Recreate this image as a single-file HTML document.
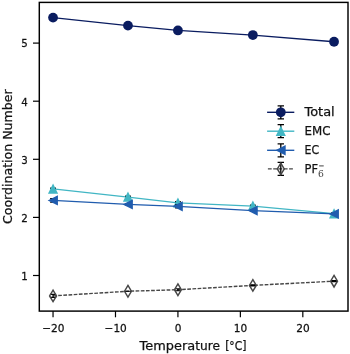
<!DOCTYPE html>
<html lang="en"><head><meta charset="utf-8"><title>Coordination Number vs Temperature</title>
<style>html,body{margin:0;padding:0;background:#fff}svg{display:block}</style></head>
<body>
<svg width="350" height="354" viewBox="0 0 350 354" font-family="'DejaVu Sans', 'Liberation Sans', sans-serif">
<rect width="350" height="354" fill="#fff"/>
<polyline points="53.04,17.59 127.97,25.61 177.93,30.43 252.86,35.08 334.04,41.76" fill="none" stroke="#0a1c60" stroke-width="1.35"/>
<circle cx="53.04" cy="17.59" r="4.9" fill="#0a1c60"/>
<circle cx="127.97" cy="25.61" r="4.9" fill="#0a1c60"/>
<circle cx="177.93" cy="30.43" r="4.9" fill="#0a1c60"/>
<circle cx="252.86" cy="35.08" r="4.9" fill="#0a1c60"/>
<circle cx="334.04" cy="41.76" r="4.9" fill="#0a1c60"/>
<polyline points="53.04,188.93 127.97,197.12 177.93,202.88 252.86,206.07 334.04,213.68" fill="none" stroke="#41b6c4" stroke-width="1.35"/>
<path d="M53.04 187.93V188.73M50.14 187.93H55.94M50.14 188.73H55.94" stroke="#000" stroke-width="1.1" fill="none"/>
<polygon points="53.04,183.43 58.14,193.63 47.94,193.63" fill="#41b6c4"/>
<path d="M127.97 196.12V196.92M125.07 196.12H130.87M125.07 196.92H130.87" stroke="#000" stroke-width="1.1" fill="none"/>
<polygon points="127.97,191.62 133.07,201.82 122.87,201.82" fill="#41b6c4"/>
<path d="M177.93 201.47V203.08M175.03 201.47H180.83M175.03 203.08H180.83" stroke="#000" stroke-width="1.1" fill="none"/>
<polygon points="177.93,197.38 183.03,207.57 172.83,207.57" fill="#41b6c4"/>
<path d="M252.86 204.97V205.97M249.96 204.97H255.76M249.96 205.97H255.76" stroke="#000" stroke-width="1.1" fill="none"/>
<polygon points="252.86,200.57 257.96,210.77 247.76,210.77" fill="#41b6c4"/>
<path d="M334.04 212.78V213.38M331.14 212.78H336.94M331.14 213.38H336.94" stroke="#000" stroke-width="1.1" fill="none"/>
<polygon points="334.04,208.18 339.14,218.38 328.94,218.38" fill="#41b6c4"/>
<polyline points="53.04,200.38 127.97,204.39 177.93,206.36 252.86,210.60 334.04,213.91" fill="none" stroke="#205cae" stroke-width="1.35"/>
<path d="M53.04 198.58V202.18M50.14 198.58H55.94M50.14 202.18H55.94" stroke="#000" stroke-width="1.1" fill="none"/>
<polygon points="47.64,200.38 57.94,195.18 57.94,205.58" fill="#205cae"/>
<path d="M127.97 203.89V204.89M125.07 203.89H130.87M125.07 204.89H130.87" stroke="#000" stroke-width="1.1" fill="none"/>
<polygon points="122.57,204.39 132.87,199.19 132.87,209.59" fill="#205cae"/>
<path d="M177.93 204.86V207.86M175.03 204.86H180.83M175.03 207.86H180.83" stroke="#000" stroke-width="1.1" fill="none"/>
<polygon points="172.53,206.36 182.83,201.16 182.83,211.56" fill="#205cae"/>
<path d="M252.86 210.00V211.20M249.96 210.00H255.76M249.96 211.20H255.76" stroke="#000" stroke-width="1.1" fill="none"/>
<polygon points="247.46,210.60 257.76,205.40 257.76,215.80" fill="#205cae"/>
<path d="M334.04 213.61V214.21M331.14 213.61H336.94M331.14 214.21H336.94" stroke="#000" stroke-width="1.1" fill="none"/>
<polygon points="328.64,213.91 338.94,208.71 338.94,219.11" fill="#205cae"/>
<polyline points="53.04,295.89 127.97,291.25 177.93,289.73 252.86,285.38 334.04,281.19" fill="none" stroke="#464646" stroke-width="1.4" stroke-dasharray="3.7 1.47"/>
<path d="M53.04 294.44V297.34M49.94 294.44H56.14M49.94 297.34H56.14" stroke="#000" stroke-width="1.2" fill="none"/>
<polygon points="53.04,290.09 56.49,295.89 53.04,301.69 49.59,295.89" fill="none" stroke="#464646" stroke-width="1.45" stroke-linejoin="miter"/>
<path d="M127.97 291.25V291.25M124.87 291.25H131.07M124.87 291.25H131.07" stroke="#000" stroke-width="1.2" fill="none"/>
<polygon points="127.97,285.45 131.42,291.25 127.97,297.05 124.52,291.25" fill="none" stroke="#464646" stroke-width="1.45" stroke-linejoin="miter"/>
<path d="M177.93 288.73V290.73M174.83 288.73H181.03M174.83 290.73H181.03" stroke="#000" stroke-width="1.2" fill="none"/>
<polygon points="177.93,283.93 181.38,289.73 177.93,295.53 174.48,289.73" fill="none" stroke="#464646" stroke-width="1.45" stroke-linejoin="miter"/>
<path d="M252.86 284.88V285.88M249.76 284.88H255.96M249.76 285.88H255.96" stroke="#000" stroke-width="1.2" fill="none"/>
<polygon points="252.86,279.58 256.31,285.38 252.86,291.18 249.41,285.38" fill="none" stroke="#464646" stroke-width="1.45" stroke-linejoin="miter"/>
<path d="M334.04 280.69V281.69M330.94 280.69H337.14M330.94 281.69H337.14" stroke="#000" stroke-width="1.2" fill="none"/>
<polygon points="334.04,275.39 337.49,281.19 334.04,286.99 330.59,281.19" fill="none" stroke="#464646" stroke-width="1.45" stroke-linejoin="miter"/>
<rect x="39.3" y="2.4" width="308.7" height="308.70000000000005" fill="none" stroke="#000" stroke-width="1.45"/>
<line x1="53.04" y1="311.1" x2="53.04" y2="317.3" stroke="#000" stroke-width="1.2"/>
<text transform="translate(53.24,331.8) scale(0.95,1)" font-size="11.1" text-anchor="middle" fill="#111" stroke="#111" stroke-width="0.25">−20</text>
<line x1="115.49" y1="311.1" x2="115.49" y2="317.3" stroke="#000" stroke-width="1.2"/>
<text transform="translate(115.69,331.8) scale(0.95,1)" font-size="11.1" text-anchor="middle" fill="#111" stroke="#111" stroke-width="0.25">−10</text>
<line x1="177.93" y1="311.1" x2="177.93" y2="317.3" stroke="#000" stroke-width="1.2"/>
<text transform="translate(178.13,331.8) scale(0.95,1)" font-size="11.1" text-anchor="middle" fill="#111" stroke="#111" stroke-width="0.25">0</text>
<line x1="240.37" y1="311.1" x2="240.37" y2="317.3" stroke="#000" stroke-width="1.2"/>
<text transform="translate(240.57,331.8) scale(0.95,1)" font-size="11.1" text-anchor="middle" fill="#111" stroke="#111" stroke-width="0.25">10</text>
<line x1="302.82" y1="311.1" x2="302.82" y2="317.3" stroke="#000" stroke-width="1.2"/>
<text transform="translate(303.02,331.8) scale(0.95,1)" font-size="11.1" text-anchor="middle" fill="#111" stroke="#111" stroke-width="0.25">20</text>
<line x1="39.3" y1="275.50" x2="33.0" y2="275.50" stroke="#000" stroke-width="1.2"/>
<text transform="translate(27.7,279.80) scale(0.92,1)" font-size="11.1" text-anchor="end" fill="#111" stroke="#111" stroke-width="0.25">1</text>
<line x1="39.3" y1="217.40" x2="33.0" y2="217.40" stroke="#000" stroke-width="1.2"/>
<text transform="translate(27.7,221.70) scale(0.92,1)" font-size="11.1" text-anchor="end" fill="#111" stroke="#111" stroke-width="0.25">2</text>
<line x1="39.3" y1="159.30" x2="33.0" y2="159.30" stroke="#000" stroke-width="1.2"/>
<text transform="translate(27.7,163.60) scale(0.92,1)" font-size="11.1" text-anchor="end" fill="#111" stroke="#111" stroke-width="0.25">3</text>
<line x1="39.3" y1="101.20" x2="33.0" y2="101.20" stroke="#000" stroke-width="1.2"/>
<text transform="translate(27.7,105.50) scale(0.92,1)" font-size="11.1" text-anchor="end" fill="#111" stroke="#111" stroke-width="0.25">4</text>
<line x1="39.3" y1="43.10" x2="33.0" y2="43.10" stroke="#000" stroke-width="1.2"/>
<text transform="translate(27.7,47.40) scale(0.92,1)" font-size="11.1" text-anchor="end" fill="#111" stroke="#111" stroke-width="0.25">5</text>
<text y="350.2" font-size="12.5" fill="#111" stroke="#111" stroke-width="0.25"><tspan x="139.6" textLength="55.5" lengthAdjust="spacingAndGlyphs">Tempera</tspan><tspan x="195.35" textLength="24.7" lengthAdjust="spacingAndGlyphs">ture</tspan> <tspan x="225.2" textLength="21.2" lengthAdjust="spacingAndGlyphs">[°C]</tspan></text>
<text transform="translate(11.6,224) rotate(-90)" font-size="12.5" textLength="134.6" lengthAdjust="spacingAndGlyphs" fill="#111" stroke="#111" stroke-width="0.25">Coordination Number</text>
<line x1="267.1" y1="112.3" x2="294.3" y2="112.3" stroke="#0a1c60" stroke-width="1.4"/>
<path d="M280.80 105.80V118.80M277.60 105.80H284.00M277.60 118.80H284.00" stroke="#000" stroke-width="1.3" fill="none"/>
<circle cx="280.80" cy="112.30" r="4.9" fill="#0a1c60"/>
<line x1="267.1" y1="131.2" x2="294.3" y2="131.2" stroke="#41b6c4" stroke-width="1.4"/>
<path d="M280.80 124.70V137.70M277.60 124.70H284.00M277.60 137.70H284.00" stroke="#000" stroke-width="1.3" fill="none"/>
<polygon points="280.80,125.70 285.90,135.90 275.70,135.90" fill="#41b6c4"/>
<line x1="267.1" y1="150.3" x2="294.3" y2="150.3" stroke="#205cae" stroke-width="1.4"/>
<path d="M280.80 143.80V156.80M277.60 143.80H284.00M277.60 156.80H284.00" stroke="#000" stroke-width="1.3" fill="none"/>
<polygon points="275.40,150.30 285.70,145.10 285.70,155.50" fill="#205cae"/>
<line x1="267.90000000000003" y1="168.9" x2="294.3" y2="168.9" stroke="#464646" stroke-width="1.4" stroke-dasharray="3.8 1.5"/>
<path d="M280.80 162.40V175.40M277.60 162.40H284.00M277.60 175.40H284.00" stroke="#000" stroke-width="1.3" fill="none"/>
<polygon points="280.80,163.10 284.25,168.90 280.80,174.70 277.35,168.90" fill="none" stroke="#464646" stroke-width="1.45" stroke-linejoin="miter"/>
<text x="304.5" y="116.0" font-size="12.5" textLength="30.2" lengthAdjust="spacingAndGlyphs" fill="#111" stroke="#111" stroke-width="0.25">Total</text>
<text x="304.5" y="134.9" font-size="12.5" textLength="26.0" lengthAdjust="spacingAndGlyphs" fill="#111" stroke="#111" stroke-width="0.25">EMC</text>
<text x="304.5" y="154.0" font-size="12.5" textLength="14.6" lengthAdjust="spacingAndGlyphs" fill="#111" stroke="#111" stroke-width="0.25">EC</text>
<text x="304.5" y="172.9" font-size="12.5" fill="#111" stroke="#111" stroke-width="0.25"><tspan textLength="13.5" lengthAdjust="spacingAndGlyphs">PF</tspan><tspan x="317.9" y="177.0" font-size="9.2" stroke="none" fill="#444" font-family="'DejaVu Serif', 'Liberation Serif', serif">6</tspan><tspan x="318.5" y="168.3" font-size="7" stroke-width="0.1">−</tspan></text>
</svg>
</body></html>
